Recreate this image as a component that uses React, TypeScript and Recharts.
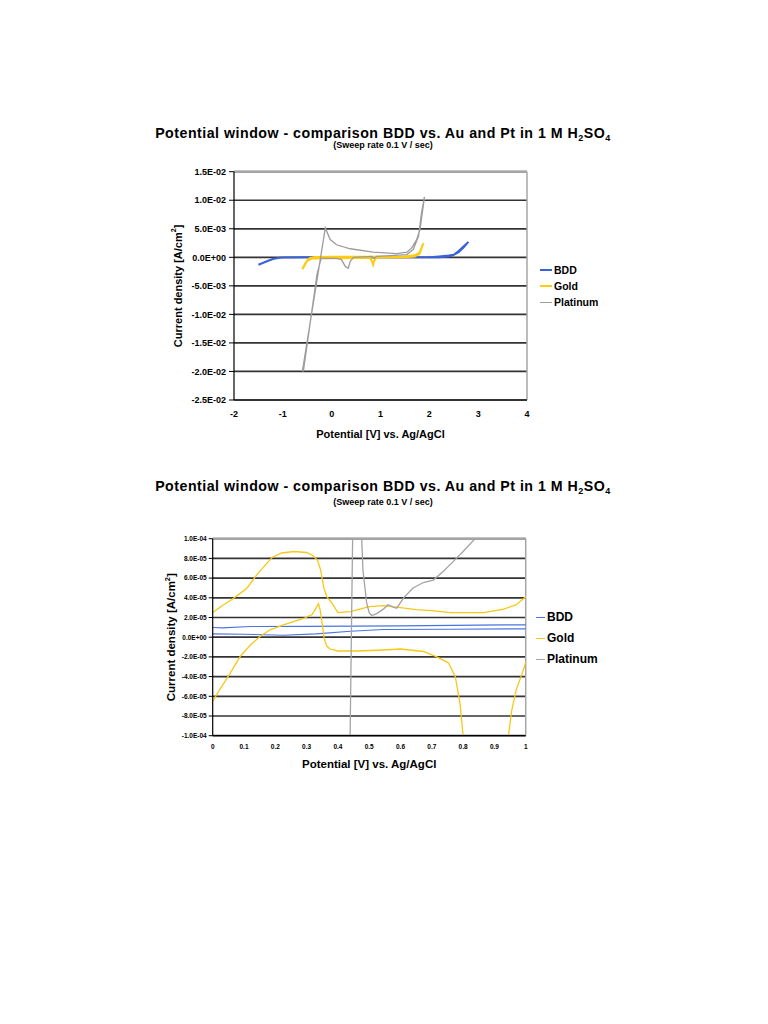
import { CartesianGrid, Line, LineChart, ReferenceLine, XAxis, YAxis } from 'recharts'

const FONT = '"Liberation Sans", Arial, sans-serif'

// full potential window, -2 .. 4 V (current density in A/cm2)
const bddWideV = [-1.5, -1.4, -1.3, -1.2, -1.1, -1.0, -0.5, 0, 0.5, 1.0, 1.5, 2.0, 2.2, 2.4, 2.5, 2.6, 2.7, 2.8, 2.7, 2.6, 2.5, 2.4, 2.2, 2.0]
const bddWideJ = [-1.3e-3, -0.95e-3, -0.6e-3, -0.3e-3, -0.12e-3, -0.03e-3, 0, 0, 0, 0, 0, 0.02e-3, 0.15e-3, 0.3e-3, 0.45e-3, 0.9e-3, 1.7e-3, 2.7e-3, 1.9e-3, 1.1e-3, 0.45e-3, 0.15e-3, 0.03e-3, 0]

const goldWideV = [-0.6, -0.55, -0.5, -0.45, -0.35, 0, 0.5, 1.0, 1.5, 1.7, 1.8, 1.88, 1.8, 1.7, 1.5, 1.0, 0.92, 0.87, 0.85, 0.82, 0.78, 0.5, 0, -0.4, -0.5, -0.6]
const goldWideJ = [-2.1e-3, -1.2e-3, -0.5e-3, -0.15e-3, 0.05e-3, 0.1e-3, 0.1e-3, 0.1e-3, 0.15e-3, 0.35e-3, 0.8e-3, 2.5e-3, 0.6e-3, 0.15e-3, 0, -0.05e-3, -0.1e-3, -0.6e-3, -1.3e-3, -0.6e-3, -0.1e-3, -0.1e-3, -0.15e-3, -0.2e-3, -0.6e-3, -2.1e-3]

const ptWideV = [-0.6, -0.13, -0.03, 0.1, 0.38, 0.85, 1.33, 1.54, 1.64, 1.74, 1.81, 1.9, 1.84, 1.78, 1.67, 1.54, 1.2, 0.92, 0.87, 0.82, 0.45, 0.38, 0.34, 0.28, 0.2, 0.1, -0.2, -0.22, -0.3, -0.58]
const ptWideJ = [-20e-3, 5.15e-3, 3.1e-3, 2.2e-3, 1.5e-3, 0.9e-3, 0.65e-3, 0.9e-3, 1.65e-3, 3.1e-3, 4.9e-3, 10.6e-3, 7.8e-3, 3.7e-3, 1.35e-3, 0.47e-3, 0.3e-3, 0.18e-3, -0.2e-3, 0.15e-3, 0, -0.7e-3, -1.9e-3, -1.6e-3, -0.4e-3, -0.18e-3, -0.18e-3, -0.3e-3, -3e-3, -20e-3]

// magnified window, 0 .. 1 V
const bddZoomV = [0, 0.1, 0.226, 0.33, 0.44, 0.545, 0.76, 1.0, 1.05, 1.0, 0.93, 0.6, 0.3, 0.12, 0.03, 0]
const bddZoomJ = [0.34e-5, 0.3e-5, 0.2e-5, 0.34e-5, 0.6e-5, 0.78e-5, 0.81e-5, 0.85e-5, 1.05e-5, 1.25e-5, 1.25e-5, 1.15e-5, 1.1e-5, 1.08e-5, 0.95e-5, 0.98e-5]

const goldZoomV = [
  0, 0.03, 0.06, 0.09, 0.11, 0.14, 0.17, 0.19, 0.22, 0.26, 0.3, 0.32, 0.335, 0.345, 0.355, 0.365, 0.38, 0.4, 0.44, 0.5, 0.545, 0.6, 0.65, 0.7, 0.76, 0.865, 0.93, 0.97, 1.0,
  1.05,
  1.0, 0.985, 0.97, 0.955, 0.945, 0.92, 0.87, 0.82, 0.8, 0.79, 0.775, 0.753, 0.716, 0.673, 0.6, 0.545, 0.46, 0.4, 0.375, 0.364, 0.356, 0.348, 0.343, 0.338, 0.327, 0.318, 0.29, 0.226, 0.183, 0.151, 0.12, 0.087, 0.055, 0.023, 0,
]
const goldZoomJ = [
  2.5e-5, 3.2e-5, 3.8e-5, 4.5e-5, 5.0e-5, 6.3e-5, 7.4e-5, 8.1e-5, 8.55e-5, 8.7e-5, 8.6e-5, 8.3e-5, 7.8e-5, 6.8e-5, 5.0e-5, 4.1e-5, 3.5e-5, 2.5e-5, 2.6e-5, 3.1e-5, 3.2e-5, 3.0e-5, 2.8e-5, 2.7e-5, 2.5e-5, 2.5e-5, 2.85e-5, 3.3e-5, 4.1e-5,
  1.0e-5,
  -2.6e-5, -4.0e-5, -5.3e-5, -7.5e-5, -10e-5, -14e-5, -16e-5, -13e-5, -10e-5, -6.7e-5, -4.0e-5, -2.6e-5, -2.0e-5, -1.45e-5, -1.2e-5, -1.3e-5, -1.4e-5, -1.4e-5, -1.2e-5, -0.9e-5, -0.1e-5, 1.8e-5, 2.8e-5, 3.4e-5, 2.8e-5, 2.3e-5, 1.9e-5, 1.25e-5, 0.75e-5, 0.07e-5, -0.8e-5, -2.0e-5, -3.7e-5, -5.3e-5, -6.5e-5,
]

const ptZoomV = [0.437, 0.449, 0.46, 0.474, 0.476, 0.48, 0.492, 0.5, 0.508, 0.524, 0.545, 0.56, 0.577, 0.588, 0.61, 0.64, 0.673, 0.705, 0.737, 0.769, 0.8, 0.838, 0.87]
const ptZoomJ = [-15e-5, 15e-5, 15e-5, 15e-5, 10e-5, 6.8e-5, 3.45e-5, 2.5e-5, 2.2e-5, 2.4e-5, 2.85e-5, 3.3e-5, 3.05e-5, 2.95e-5, 4.0e-5, 5.0e-5, 5.55e-5, 5.8e-5, 6.7e-5, 7.7e-5, 8.7e-5, 10e-5, 11e-5]

const wideXTicks = [-2, -1, 0, 1, 2, 3, 4]
const wideYTicks = [-0.025, -0.02, -0.015, -0.01, -0.005, 0, 0.005, 0.01, 0.015]
const zoomXTicks = [0, 0.1, 0.2, 0.3, 0.4, 0.5, 0.6, 0.7, 0.8, 0.9, 1]
const zoomYTicks = [-1e-4, -8e-5, -6e-5, -4e-5, -2e-5, 0, 2e-5, 4e-5, 6e-5, 8e-5, 1e-4]

const seriesNames = ['BDD', 'Gold', 'Platinum']

const pts = (v: number[], j: number[]) => v.map((x, i) => ({ x, y: j[i] }))

const sci = (v: number) => {
  if (v === 0) return '0.0E+00'
  const [m, e] = v.toExponential(1).split('e')
  const n = Number(e)
  return `${m}E${n < 0 ? '-' : '+'}${String(Math.abs(n)).padStart(2, '0')}`
}

type Series = { name: string; data: { x: number; y: number }[]; color: string; width: number }

interface PanelProps {
  top: number
  height: number
  margin: { top: number; right: number; bottom: number; left: number }
  yAxisWidth: number
  xAxisHeight: number
  series: Series[]
  xTicks: number[]
  yTicks: number[]
  tickFont: number
  yTick: [number, number]
  xTick: [number, number]
  labelFont: number
  xLabelDy: number
  yLabelDx: number
  legend: { left: number; top: number; gap: number; font: number; swatch: number }
}

function Title({ top, sub }: { top: number; sub: number }) {
  return (
    <>
      <div style={{ position: 'absolute', left: 0, width: 766, top, textAlign: 'center', fontFamily: FONT, fontWeight: 'bold', fontSize: 14.2, lineHeight: '16px', letterSpacing: 0.5 }}>
        Potential window - comparison BDD vs. Au and Pt in 1 M H
        <span style={{ fontSize: 9, position: 'relative', top: 3 }}>2</span>SO
        <span style={{ fontSize: 9, position: 'relative', top: 3 }}>4</span>
      </div>
      <div style={{ position: 'absolute', left: 0, width: 766, top: sub, textAlign: 'center', fontFamily: FONT, fontWeight: 'bold', fontSize: 9, lineHeight: '10px' }}>
        (Sweep rate 0.1 V / sec)
      </div>
    </>
  )
}

function Panel(p: PanelProps) {
  const xs = p.xTicks
  const ys = p.yTicks
  const tick = { fontSize: p.tickFont, fontWeight: 'bold', fill: '#000', fontFamily: FONT }
  return (
    <>
      <div style={{ position: 'absolute', left: 0, top: p.top }}>
        <LineChart width={540} height={p.height} margin={p.margin}>
          <CartesianGrid vertical={false} stroke="#333" strokeWidth={1.7} />
          <XAxis
            type="number"
            dataKey="x"
            domain={[xs[0], xs[xs.length - 1]]}
            ticks={xs}
            interval={0}
            allowDataOverflow
            height={p.xAxisHeight}
            tick={tick}
            tickLine={false}
            tickSize={p.xTick[0]}
            tickMargin={p.xTick[1]}
            axisLine={{ stroke: '#000', strokeWidth: 1.2 }}
            label={({ viewBox }: any) => (
              <text x={viewBox.x + viewBox.width / 2} y={viewBox.y + p.xLabelDy} textAnchor="middle" dominantBaseline="central" fontFamily={FONT} fontWeight="bold" fontSize={p.labelFont}>
                Potential [V] vs. Ag/AgCl
              </text>
            )}
          />
          <YAxis
            type="number"
            domain={[ys[0], ys[ys.length - 1]]}
            ticks={ys}
            interval={0}
            allowDataOverflow
            width={p.yAxisWidth}
            tick={tick}
            tickFormatter={sci}
            tickLine={{ stroke: '#000' }}
            tickSize={p.yTick[0]}
            tickMargin={p.yTick[1]}
            axisLine={{ stroke: '#000', strokeWidth: 1.2 }}
            label={({ viewBox }: any) => {
              const cx = viewBox.x + p.yLabelDx
              const cy = viewBox.y + viewBox.height / 2
              return (
                <text x={cx} y={cy} transform={`rotate(-90 ${cx} ${cy})`} textAnchor="middle" dominantBaseline="central" fontFamily={FONT} fontWeight="bold" fontSize={p.labelFont}>
                  Current density [A/cm
                  <tspan dy={-4} fontSize={p.labelFont * 0.65}>2</tspan>
                  <tspan dy={4}>]</tspan>
                </text>
              )
            }}
          />
          <ReferenceLine y={ys[ys.length - 1]} stroke="#a6a6a6" strokeWidth={2} />
          <ReferenceLine x={xs[xs.length - 1]} stroke="#a6a6a6" strokeWidth={1.5} />
          {p.series.map((s) => (
            <Line key={s.name} data={s.data} dataKey="y" name={s.name} type="linear" stroke={s.color} strokeWidth={s.width} dot={false} isAnimationActive={false} />
          ))}
        </LineChart>
      </div>
      {p.series.map((s, i) => (
        <div
          key={s.name}
          style={{ position: 'absolute', left: p.legend.left, top: p.legend.top + i * p.legend.gap, display: 'flex', alignItems: 'center', fontFamily: FONT, fontWeight: 'bold', fontSize: p.legend.font, lineHeight: '14px' }}
        >
          <span style={{ display: 'inline-block', width: p.legend.swatch, height: 0, borderTop: `${s.width}px solid ${s.color}`, marginRight: 2 }} />
          {s.name}
        </div>
      ))}
    </>
  )
}

export default function App() {
  const wide: Series[] = [
    { name: seriesNames[0], data: pts(bddWideV, bddWideJ), color: '#3a62d8', width: 2 },
    { name: seriesNames[1], data: pts(goldWideV, goldWideJ), color: '#ffcc11', width: 2 },
    { name: seriesNames[2], data: pts(ptWideV, ptWideJ), color: '#9c9c9c', width: 1.3 },
  ]
  const zoom: Series[] = [
    { name: seriesNames[0], data: pts(bddZoomV, bddZoomJ), color: '#4a74e0', width: 1.1 },
    { name: seriesNames[1], data: pts(goldZoomV, goldZoomJ), color: '#f6c817', width: 1.3 },
    { name: seriesNames[2], data: pts(ptZoomV, ptZoomJ), color: '#a3a3a3', width: 1.3 },
  ]
  return (
    <div style={{ position: 'absolute', left: 0, top: 0, width: 768, height: 1024, background: '#fff' }}>
      <Title top={125} sub={140} />
      <Panel
        top={150}
        height={300}
        margin={{ top: 21.7, right: 13, bottom: 20, left: 174 }}
        yAxisWidth={60}
        xAxisHeight={30}
        series={wide}
        xTicks={wideXTicks}
        yTicks={wideYTicks}
        tickFont={9}
        yTick={[5, 3]}
        xTick={[6, 5]}
        labelFont={11}
        xLabelDy={34}
        yLabelDx={4}
        legend={{ left: 540, top: 263, gap: 16, font: 10.5, swatch: 12 }}
      />
      <Title top={478} sub={497} />
      <Panel
        top={520}
        height={260}
        margin={{ top: 18.7, right: 14.3, bottom: 22.3, left: 172.7 }}
        yAxisWidth={40}
        xAxisHeight={22}
        series={zoom}
        xTicks={zoomXTicks}
        yTicks={zoomYTicks}
        tickFont={6.5}
        yTick={[4, 2]}
        xTick={[5, 4]}
        labelFont={11.5}
        xLabelDy={28}
        yLabelDx={-2}
        legend={{ left: 536, top: 610, gap: 21, font: 12, swatch: 9 }}
      />
    </div>
  )
}
